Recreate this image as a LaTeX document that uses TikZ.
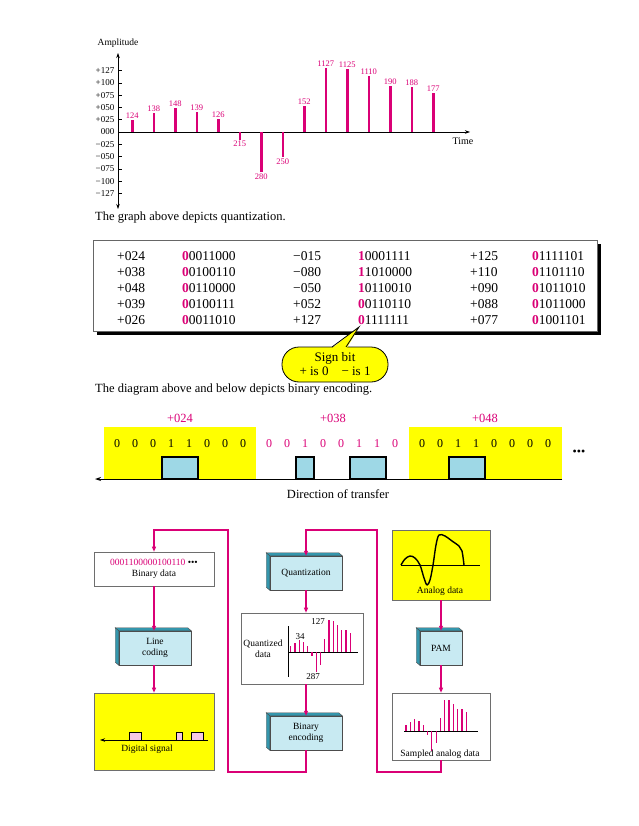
\documentclass[tikz,border=0pt]{standalone}
\usepackage{fontspec}
\setmainfont{Liberation Serif}
\usetikzlibrary{arrows.meta,calc}
\definecolor{mag}{RGB}{218,0,118}
\definecolor{yel}{RGB}{255,255,0}
\definecolor{pulse}{RGB}{158,216,230}
\definecolor{front}{RGB}{200,234,242}
\definecolor{side}{RGB}{52,150,172}
\definecolor{ppink}{RGB}{246,200,226}
\definecolor{bord}{RGB}{110,110,110}
\newcommand\fsz[2]{\fontsize{#1}{#2}\selectfont}
\newcommand\threed[1]{%
  \filldraw[fill=side,draw=black!70,line width=0.4pt] (#1.north west) -- ++(-3.5,-3) -- ($(#1.north east)+(-3.5,-3)$) -- (#1.north east) -- cycle;
  \filldraw[fill=side,draw=black!70,line width=0.4pt] (#1.north west) -- ++(-3.5,-3) -- ($(#1.south west)+(-3.5,-3)$) -- (#1.south west) -- cycle;}
\begin{document}
\begin{tikzpicture}[x=1pt,y=-1pt,
  tick/.style={font=\fsz{9}{10},anchor=east,inner sep=0pt},
  blab/.style={font=\fsz{8.5}{9},text=mag,inner sep=1.3pt},
  tab/.style={font=\fsz{13.5}{16},anchor=west,inner sep=0pt},
  bitn/.style={font=\fsz{12}{14},inner sep=0pt},
  captxt/.style={font=\fsz{12.5}{15},anchor=west,inner sep=0pt},
  sml/.style={font=\fsz{9.5}{11},align=center,inner sep=0pt},
  wbox/.style={draw=bord,fill=white,line width=0.6pt,inner sep=0pt,font=\fsz{9.5}{11},align=center},
  ybox/.style={draw=bord,fill=yel,line width=0.6pt,inner sep=0pt},
  fbox/.style={draw=black!70,fill=front,line width=0.5pt,inner sep=0pt,font=\fsz{9.5}{11},align=center,minimum height=34pt},
  pk/.style={draw=mag,line width=1.1pt},
  pka/.style={pk,-{Triangle[length=5pt,width=4pt]}},
  pbox/.style={draw=black,line width=1.5pt,fill=pulse},
  axarr/.style={line width=0.6pt},
]
\useasboundingbox (0,0) rectangle (638,826);

% ---------------- quantization graph ----------------
\node[font=\fsz{9.5}{11}] (amp) at (118,43) {Amplitude};
\coordinate (yt) at (118,53);
\coordinate (yb) at (118,209);
\coordinate (xo) at (118,132);
\coordinate (xe) at (470,132);
\draw[axarr,{Stealth[length=5pt,width=3.5pt]}-{Stealth[length=5pt,width=3.5pt]}] (yt) -- (yb);
\draw[axarr,-{Stealth[length=5pt,width=3.5pt]}] (xo) -- (xe);
\node[font=\fsz{10}{12}] (time) at (463,141) {Time};
\foreach \lab [count=\k from 0] in {+127,+100,+075,+050,+025,000,−025,−050,−075,−100,−127}{
  \pgfmathsetmacro\yy{70.5+12.3*\k}
  \draw[line width=0.5pt] (118,\yy) -- (122,\yy);
  \node[tick] (tk\k) at (114.5,\yy) {\lab};
}
\foreach \i/\v/\l in {0/24/124,1/38/138,2/48/148,3/39/139,4/26/126,8/52/152,9/127/1127,10/125/1125,11/110/1110,12/90/190,13/88/188,14/77/177}{
  \pgfmathsetmacro\xx{132.3+21.5*\i}
  \pgfmathsetmacro\yy{132-0.506*\v}
  \draw[mag,line width=2.4pt] (\xx,132) -- (\xx,\yy);
  \node[blab,anchor=south] (gl\i) at (\xx,\yy) {\l};
}
\foreach \i/\v/\l in {5/15/215,6/80/280,7/50/250}{
  \pgfmathsetmacro\xx{132.3+21.5*\i}
  \pgfmathsetmacro\yy{132+0.506*\v}
  \draw[mag,line width=2.4pt] (\xx,132) -- (\xx,\yy);
  \node[blab,anchor=north] (gl\i) at (\xx,\yy) {\l};
}
\node[captxt] (cap1) at (95,218) {The graph above depicts quantization.};

% ---------------- table ----------------
\fill[black] (97,244) rectangle (600.5,335);
\node[draw=black!60,fill=white,line width=0.5pt,minimum width=504pt,minimum height=91pt,inner sep=0pt] (tbl) at (345,285.5) {};
\foreach \ya/\vA/\sA/\rA/\vB/\sB/\rB/\vC/\sC/\rC in {
  256.5/+024/0/0011000/−015/1/0001111/+125/0/1111101,
  272.5/+038/0/0100110/−080/1/1010000/+110/0/1101110,
  288.5/+048/0/0110000/−050/1/0110010/+090/0/1011010,
  304.5/+039/0/0100111/+052/0/0110110/+088/0/1011000,
  320.5/+026/0/0011010/+127/0/1111111/+077/0/1001101}{
  \node[tab] at (117,\ya) {\vA};
  \node[tab] at (182,\ya) {\textcolor{mag}{\textbf{\sA}}\rA};
  \node[tab] at (293,\ya) {\vB};
  \node[tab] at (358,\ya) {\textcolor{mag}{\textbf{\sB}}\rB};
  \node[tab] at (470,\ya) {\vC};
  \node[tab] at (532,\ya) {\textcolor{mag}{\textbf{\sC}}\rC};
}

% ---------------- callout ----------------
\node[draw=black,fill=yel,line width=0.8pt,rounded corners=17pt,minimum width=106pt,minimum height=35pt,inner sep=0pt,align=center,font=\fsz{13}{14}] (sign) at (335,364.5) {Sign bit\\+ is 0\quad − is 1};
\coordinate (tip) at (359,327);
\fill[yel] (331.5,348.5) -- (tip) -- (346.5,348.5) -- cycle;
\draw[line width=0.8pt] (332,347) -- (tip) -- (346,347);
\node[captxt] (cap2) at (95,390) {The diagram above and below depicts binary encoding.};

% ---------------- binary encoding strip ----------------
\fill[yel] (104,427) rectangle (256,479);
\fill[yel] (409,427) rectangle (562,479);
\node[font=\fsz{12.5}{14},text=mag] (l1) at (180,418) {+024};
\node[font=\fsz{12.5}{14},text=mag] (l2) at (333,418) {+038};
\node[font=\fsz{12.5}{14},text=mag] (l3) at (485,418) {+048};
\foreach \b [count=\i from 0] in {0,0,0,1,1,0,0,0}{
  \node[bitn] (ba\i) at ({117+18*\i},444) {\b};}
\foreach \b [count=\i from 0] in {0,0,1,0,0,1,1,0}{
  \node[bitn,text=mag] (bb\i) at ({269+18*\i},444) {\b};}
\foreach \b [count=\i from 0] in {0,0,1,1,0,0,0,0}{
  \node[bitn] (bc\i) at ({422+18*\i},444) {\b};}
\draw[pbox] (162,457) rectangle (198,479);
\draw[pbox] (296,457) rectangle (314,479);
\draw[pbox] (350,457) rectangle (386,479);
\draw[pbox] (449,457) rectangle (485,479);
\coordinate (sr) at (562,479);
\coordinate (sl) at (95,479);
\draw[line width=1pt,-{Stealth[length=6pt,width=4pt]}] (sr) -- (sl);
\node[font=\fsz{12.5}{14}] (dir) at (338,494) {Direction of transfer};
\node[font=\fsz{12}{14}] (dots) at (579,453) {•••};

% ---------------- bottom flow ----------------
% left column
\node[wbox,minimum width=120pt,minimum height=34pt] (bdata) at (154,569) {\textcolor{mag}{0001100000100110} •••\\Binary data};
\node[fbox,minimum width=72pt] (lcod) at (155,648) {Line\\coding};
\threed{lcod}
\node[ybox,minimum width=120pt,minimum height=77pt] (dsig) at (154,731.5) {};
\coordinate (dr) at (208,740);
\coordinate (dl) at (100,740);
\draw[line width=0.7pt,-{Stealth[length=5pt,width=3.5pt]}] (dr) -- (dl);
\draw[fill=ppink,line width=0.9pt] (129,732) rectangle (141,740);
\draw[fill=ppink,line width=0.9pt] (176,732) rectangle (182,740);
\draw[fill=ppink,line width=0.9pt] (191,732) rectangle (203,740);
\node[sml] (dsl) at (147,749) {Digital signal};

% middle column
\node[fbox,minimum width=72pt] (quant) at (306,573) {Quantization};
\threed{quant}
\node[wbox,minimum width=122pt,minimum height=71pt] (qdata) at (302,648.5) {};
\node[sml] (qdl) at (263,649) {Quantized\\data};
\draw[line width=0.7pt] (288,626) -- (288,677);
\draw[line width=0.7pt] (288,652) -- (358,652);
\foreach \v [count=\i from 0] in {24,38,48,39,26,-15,-80,-50,52,127,125,110,90,88,77}{
  \draw[mag,line width=1.2pt] ({290.7+4.25*\i},652) -- ({290.7+4.25*\i},{652-0.25*\v});}
\node[font=\fsz{9}{10},inner sep=0pt] (q34) at (300,637) {34};
\node[font=\fsz{9}{10},inner sep=0pt] (q127) at (318,622) {127};
\node[font=\fsz{9}{10},inner sep=0pt] (q287) at (313,677) {287};
\node[fbox,minimum width=72pt] (benc) at (306,733) {Binary\\encoding};
\threed{benc}

% right column
\node[ybox,minimum width=98pt,minimum height=70pt] (analog) at (441,565) {};
\draw[line width=0.8pt] (401,565) -- (480,565);
\draw[line width=1.4pt,line join=round] plot[smooth,tension=0.55] coordinates {(401,565) (405,559) (410,556) (415,558) (420,565) (424,578) (427,585) (430,580) (433,565) (436,545) (439,535) (445,536) (452,541) (459,546) (462,551) (464,565)};
\node[sml] (adl) at (440,591) {Analog data};
\node[fbox,minimum width=42pt] (pam) at (441,648) {PAM};
\threed{pam}
\node[wbox,minimum width=98pt,minimum height=67pt] (samp) at (441,726.5) {};
\draw[line width=0.7pt] (404,731) -- (478,731);
\foreach \v [count=\i from 0] in {24,38,48,39,26,-15,-80,-50,52,127,125,110,90,88,77}{
  \draw[mag,line width=1.2pt] ({406+4.3*\i},731) -- ({406+4.3*\i},{731-0.245*\v});}
\node[sml] (sdl) at (440,754) {Sampled analog data};

% connectors
\draw[pka] (bdata.south) -- (lcod.north -| bdata.south);
\draw[pka] (lcod.south -| dsig.north) -- (dsig.north);
\draw[pka] (quant.south) -- (qdata.north -| quant.south);
\draw[pka] (qdata.south -| benc.north) -- (benc.north);
\draw[pka] (analog.south) -- (pam.north);
\draw[pka] (pam.south) -- (samp.north);
\coordinate (r1) at (377,772);
\coordinate (r2) at (377,530);
\coordinate (m1) at (228,772);
\coordinate (m2) at (228,530);
\draw[pk,-{Triangle[length=5pt,width=4pt]},line join=miter] (samp.south) |- (r1) -- (r2) -| (quant.north);
\draw[pk,-{Triangle[length=5pt,width=4pt]},line join=miter] (benc.south) |- (m1) -- (m2) -| (bdata.north);
\end{tikzpicture}
\end{document}
